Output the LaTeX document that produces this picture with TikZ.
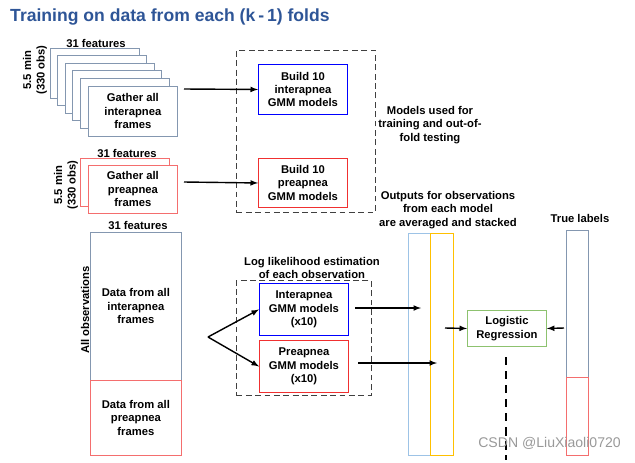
\documentclass[tikz,border=0pt]{standalone}
\usepackage{fontspec}
\setmainfont{Liberation Sans}
\begin{document}
\begin{tikzpicture}[x=0.03cm,y=-0.03cm,
  txt/.style={font=\bfseries\fontsize{9.6}{11.5}\selectfont,align=center,inner sep=0pt},
  frameB/.style={draw=gbl,fill=white,line width=0.7pt},
  frameR/.style={draw=rd!70,fill=white,line width=0.7pt},
  arr/.style={-latex,line width=1.2pt},
  dbox/.style={draw=black!75,dashed,line width=0.7pt,dash pattern=on 5pt off 3pt}]
\definecolor{gbl}{HTML}{8497B0}
\definecolor{rd}{HTML}{F03030}
\definecolor{tb}{HTML}{2E5597}
\definecolor{gr}{HTML}{8DC26F}
\definecolor{lb}{HTML}{9DC3E6}
\definecolor{yl}{HTML}{FFC000}
\useasboundingbox (0,0) rectangle (635,462);
\node[anchor=west,font=\bfseries\fontsize{15}{17}\selectfont,text=tb,inner sep=0pt] (title) at (10,17) {Training on data from each (k\,-\,1) folds};
% interapnea stack
\foreach \i in {0,...,4}{\draw[frameB] (50+7.6*\i,48+7.6*\i) rectangle ++(89,50);}
\node[frameB,minimum width=89*0.03cm,minimum height=50*0.03cm,txt,anchor=north west] (gi) at (88,86) {Gather all\\interapnea\\frames};
\node[txt] (f1) at (96,43) {31 features};
\node[txt,rotate=90] (m1) at (35,70) {5.5 min\\(330 obs)};
% preapnea stack
\draw[frameR] (80,158) rectangle ++(89,48);
\node[frameR,minimum width=89*0.03cm,minimum height=48*0.03cm,txt,anchor=north west] (gp) at (88,165) {Gather all\\preapnea\\frames};
\node[txt] (f2) at (127,153) {31 features};
\node[txt,rotate=90] (m2) at (66,185) {5.5 min\\(330 obs)};
% dashed box 1
\node[dbox,minimum width=139*0.03cm,minimum height=162*0.03cm,anchor=north west] (db1) at (236,50) {};
\node[draw=blue,line width=0.8pt,minimum width=89*0.03cm,minimum height=50*0.03cm,txt,anchor=north west] (bi) at (258,64) {Build 10\\interapnea\\GMM models};
\node[draw=rd,line width=0.8pt,minimum width=89*0.03cm,minimum height=49*0.03cm,txt,anchor=north west] (bp) at (258,158) {Build 10\\preapnea\\GMM models};
\draw[arr] (184,89) -- (bi.west);
\draw[arr] (184,182) -- (bp.west);
\node[txt] (mu) at (430,125) {Models used for\\training and out-of-\\fold testing};
\node[txt] (ou) at (448,210) {Outputs for observations\\from each model\\are averaged and stacked};
% big column
\node[draw=gbl,line width=0.7pt,minimum width=91*0.03cm,minimum height=148*0.03cm,anchor=north west,txt] (di) at (90,232) {Data from all\\interapnea\\frames};
\node[draw=rd!70,line width=0.7pt,minimum width=91*0.03cm,minimum height=75*0.03cm,anchor=north west,txt] (dp) at (90,380) {Data from all\\preapnea\\frames};
\node[txt] (f4) at (138,225) {31 features};
\node[txt,rotate=90] (ao) at (85,310) {All observations};
% dashed box 2
\node[txt] (ll) at (312,268) {Log likelihood estimation\\of each observation};
\node[dbox,minimum width=135*0.03cm,minimum height=115*0.03cm,anchor=north west] (db2) at (236,280) {};
\node[draw=blue,line width=0.8pt,minimum width=89*0.03cm,minimum height=52*0.03cm,txt,anchor=north west] (gi2) at (259,283) {Interapnea\\GMM models\\(x10)};
\node[draw=rd,line width=0.8pt,minimum width=89*0.03cm,minimum height=52*0.03cm,txt,anchor=north west] (gp2) at (259,340) {Preapnea\\GMM models\\(x10)};
\coordinate (s) at (208,337);
\draw[arr] (s) -- (gi2.west);
\draw[arr] (s) -- (gp2.west);
% stacked columns
\node[draw=lb,line width=0.8pt,minimum width=22*0.03cm,minimum height=222*0.03cm,anchor=north west] (c1) at (408,233) {};
\node[draw=yl,line width=0.8pt,minimum width=23*0.03cm,minimum height=222*0.03cm,anchor=north west] (c2) at (430,233) {};
\coordinate (e1) at (421,308);
\coordinate (e2) at (437,363);
\draw[arr] (355,308) -- (e1);
\draw[arr] (358,363) -- (e2);
\node[draw=gr,line width=0.8pt,minimum width=79*0.03cm,minimum height=36*0.03cm,txt,anchor=north west] (lr) at (467,310) {Logistic\\Regression};
\coordinate (e3) at (445,328);
\draw[arr] (e3) -- (lr.west);
% true labels
\node[draw=gbl,line width=0.8pt,minimum width=22*0.03cm,minimum height=147*0.03cm,anchor=north west] (t1) at (566,230) {};
\node[draw=rd!70,line width=0.8pt,minimum width=22*0.03cm,minimum height=78*0.03cm,anchor=north west] (t2) at (566,377) {};
\node[txt] (tl) at (580,218) {True labels};
\coordinate (e4) at (564,328);
\draw[arr] (e4) -- (lr.east);
\coordinate (d1) at (506,357);
\coordinate (d2) at (506,460);
\draw[line width=1.6pt,dash pattern=on 7pt off 5pt] (d1) -- (d2);
\node[text=black!40,font=\fontsize{12}{13}\selectfont,anchor=east,inner sep=0pt] (wm) at (621,443) {CSDN @LiuXiaoli0720};
\end{tikzpicture}
\end{document}
